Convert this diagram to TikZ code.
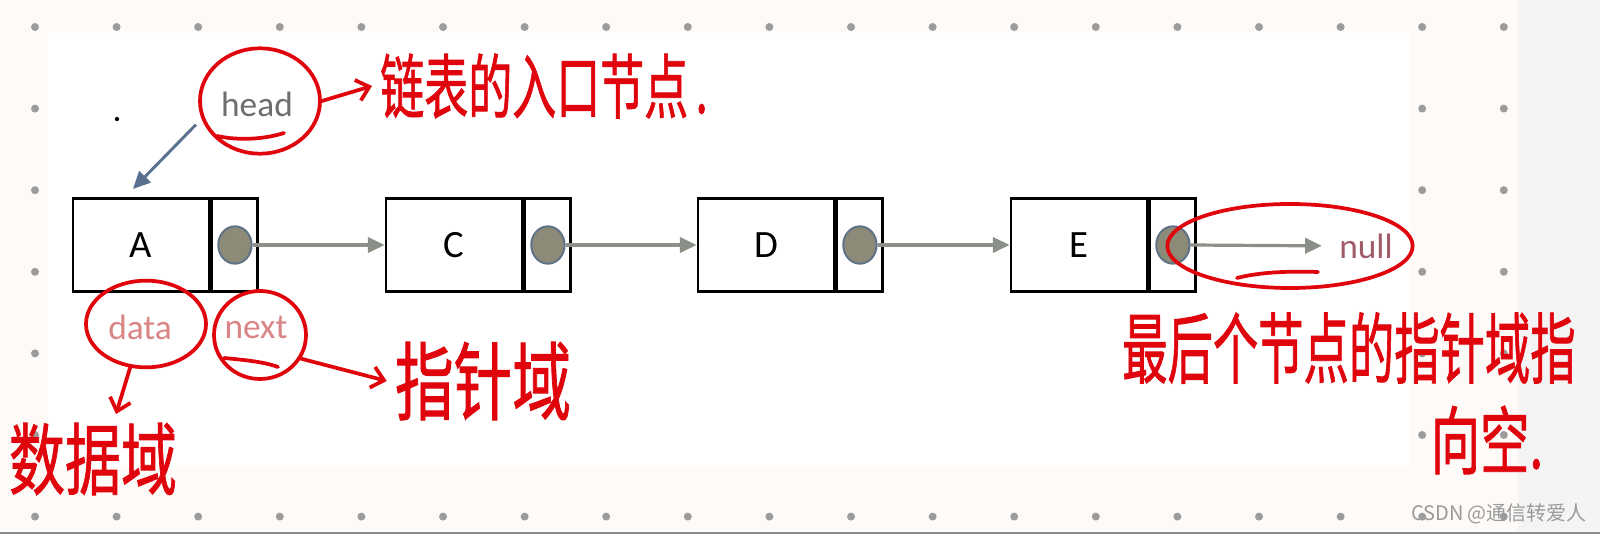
\documentclass[tikz,border=0pt]{standalone}
\usepackage{fontspec}
\usepackage{graphicx}
\setmainfont{Carlito}
\newfontfamily\cjk{Noto Sans CJK SC}
\newfontfamily\cjkpen[FakeBold=1.2]{Noto Sans CJK SC}
\usetikzlibrary{arrows.meta,shapes.geometric}
\definecolor{bgout}{HTML}{FDFAF7}
\definecolor{strip}{HTML}{F4F4F5}
\definecolor{dotc}{HTML}{9C9C9C}
\definecolor{ptrfill}{HTML}{8C8B78}
\definecolor{ptrline}{HTML}{5E7387}
\definecolor{linkc}{HTML}{8A9088}
\definecolor{headc}{HTML}{5A7090}
\definecolor{headtxt}{HTML}{6E6E6E}
\definecolor{nulltxt}{HTML}{A05A6A}
\definecolor{fieldtxt}{HTML}{D98585}
\definecolor{pen}{RGB}{224,4,12}
\definecolor{wmark}{HTML}{9A9A9A}
\tikzset{
  databox/.style={draw=black, line width=2.2pt, minimum width=102pt, minimum height=69.75pt, inner sep=0pt, font=\fontsize{29}{29}\selectfont},
  nextbox/.style={draw=black, line width=2.2pt, minimum width=34.5pt, minimum height=69.75pt, inner sep=0pt},
  ptr/.style={ellipse, fill=ptrfill, draw=ptrline, line width=1.5pt, minimum width=25pt, minimum height=28pt, inner sep=0pt},
  link/.style={draw=linkc, line width=2.4pt, -{Triangle[length=12.5pt,width=11.5pt]}},
  headarrow/.style={draw=headc, line width=2.2pt, -{Triangle[length=13pt,width=12pt]}},
  label/.style={inner sep=0pt, font=\fontsize{26.5}{26.5}\selectfont},
  ring/.style={ellipse, draw=pen, line width=2.8pt, inner sep=0pt},
  penarrow/.style={draw=pen, line width=2.8pt, line cap=round, line join=round, -{Straight Barb[length=9pt,width=16pt,line width=2.8pt]}},
  penline/.style={draw=pen, line width=2.8pt, line cap=round},
  hand/.style={inner sep=0pt, text=pen},
}
\begin{document}
\begin{tikzpicture}[x=0.75pt,y=-0.75pt]
% backgrounds
\fill[bgout] (0,0) rectangle (1600,534);
\useasboundingbox (0,0) rectangle (1600,534);
\foreach \i in {0,...,18}
  \foreach \j in {0,...,6}
    \fill[dotc] ({35+81.6*\i},{27+81.6*\j}) circle (3pt);
\fill[white] (48,33) rectangle (1410,467);
\fill[strip] (1518,0) rectangle (1600,531);
\fill[black!45] (0,531.5) rectangle (1600,534);

% list nodes
\node[databox] (A) at (141,245) {A};
\node[nextbox, anchor=west] (An) at (A.east) {};
\node[ptr] (Ac) at (An.center) {};
\node[databox] (C) at (454,245) {C};
\node[nextbox, anchor=west] (Cn) at (C.east) {};
\node[ptr] (Cc) at (Cn.center) {};
\node[databox] (D) at (766,245) {D};
\node[nextbox, anchor=west] (Dn) at (D.east) {};
\node[ptr] (Dc) at (Dn.center) {};
\node[databox] (E) at (1079,245) {E};
\node[nextbox, anchor=west] (En) at (E.east) {};
\node[ptr] (Ec) at (En.center) {};

\node[label, text=nulltxt] (null) at (1366,246) {null};
\node[label, text=headtxt] (head) at (257,104) {head};
\node[label, text=fieldtxt] (data) at (140,327) {data};
\node[label, text=fieldtxt] (next) at (256,327) {next};
\fill[black] (117,119) circle (1.6pt);

\draw[link] (Ac.east) -- (C.west);
\draw[link] (Cc.east) -- (D.west);
\draw[link] (Dc.east) -- (E.west);
\draw[link, shorten >=13pt] (Ec.east) -- (null.west);
\coordinate (atip) at (133,189);
\draw[headarrow] ([shift={(-25,8)}]head.south west) -- (atip);

% red annotations
\node[ring, minimum width=90pt, minimum height=79pt] (headring) at (260,101) {};
\draw[penline] (217,136) .. controls (240,141) and (265,139) .. (284,133);
\node[ring, minimum width=90pt, minimum height=65pt] (dataring) at (146,324) {};
\node[ring, minimum width=69pt, minimum height=66pt] (nextring) at (260,335) {};
\draw[penline] (224,358) .. controls (245,360) and (265,362) .. (278,367);
\node[ring, minimum width=184pt, minimum height=63pt] (nullring) at (1290,246) {};
\draw[penline] (1237,278) .. controls (1260,272) and (1290,271) .. (1318,272);

\node[hand, anchor=west, font=\cjkpen\fontsize{33}{33}\selectfont] (entry) at (380,86) {\scalebox{1}[1.6]{链表的入口节点\,.}};
\node[hand, font=\cjkpen\fontsize{42}{42}\selectfont] (datat) at (93,459) {\scalebox{1}[1.4]{数据域}};
\node[hand, font=\cjkpen\fontsize{44}{44}\selectfont] (ptrt) at (483,381) {\scalebox{1}[1.45]{指针域}};
\node[hand, anchor=west, font=\cjkpen\fontsize{34}{34}\selectfont] (lastt) at (1122,348) {\scalebox{1}[1.7]{最后个节点的指针域指}};
\node[hand, font=\cjkpen\fontsize{37}{37}\selectfont] (lastt2) at (1487,440) {\scalebox{1}[1.5]{向空.}};

\coordinate (dtip) at (116,414);
\draw[penarrow] (headring.east) -- ([xshift=-6]entry.west);
\draw[penarrow] (dataring.250) -- (dtip);
\draw[penarrow] (nextring.-30) -- ([xshift=-6]ptrt.west);

% watermark
\node[inner sep=0pt, text=wmark, font=\cjk\fontsize{15}{15}\selectfont] (wm) at (1499,514) {CSDN @通信转爱人};
\end{tikzpicture}
\end{document}
